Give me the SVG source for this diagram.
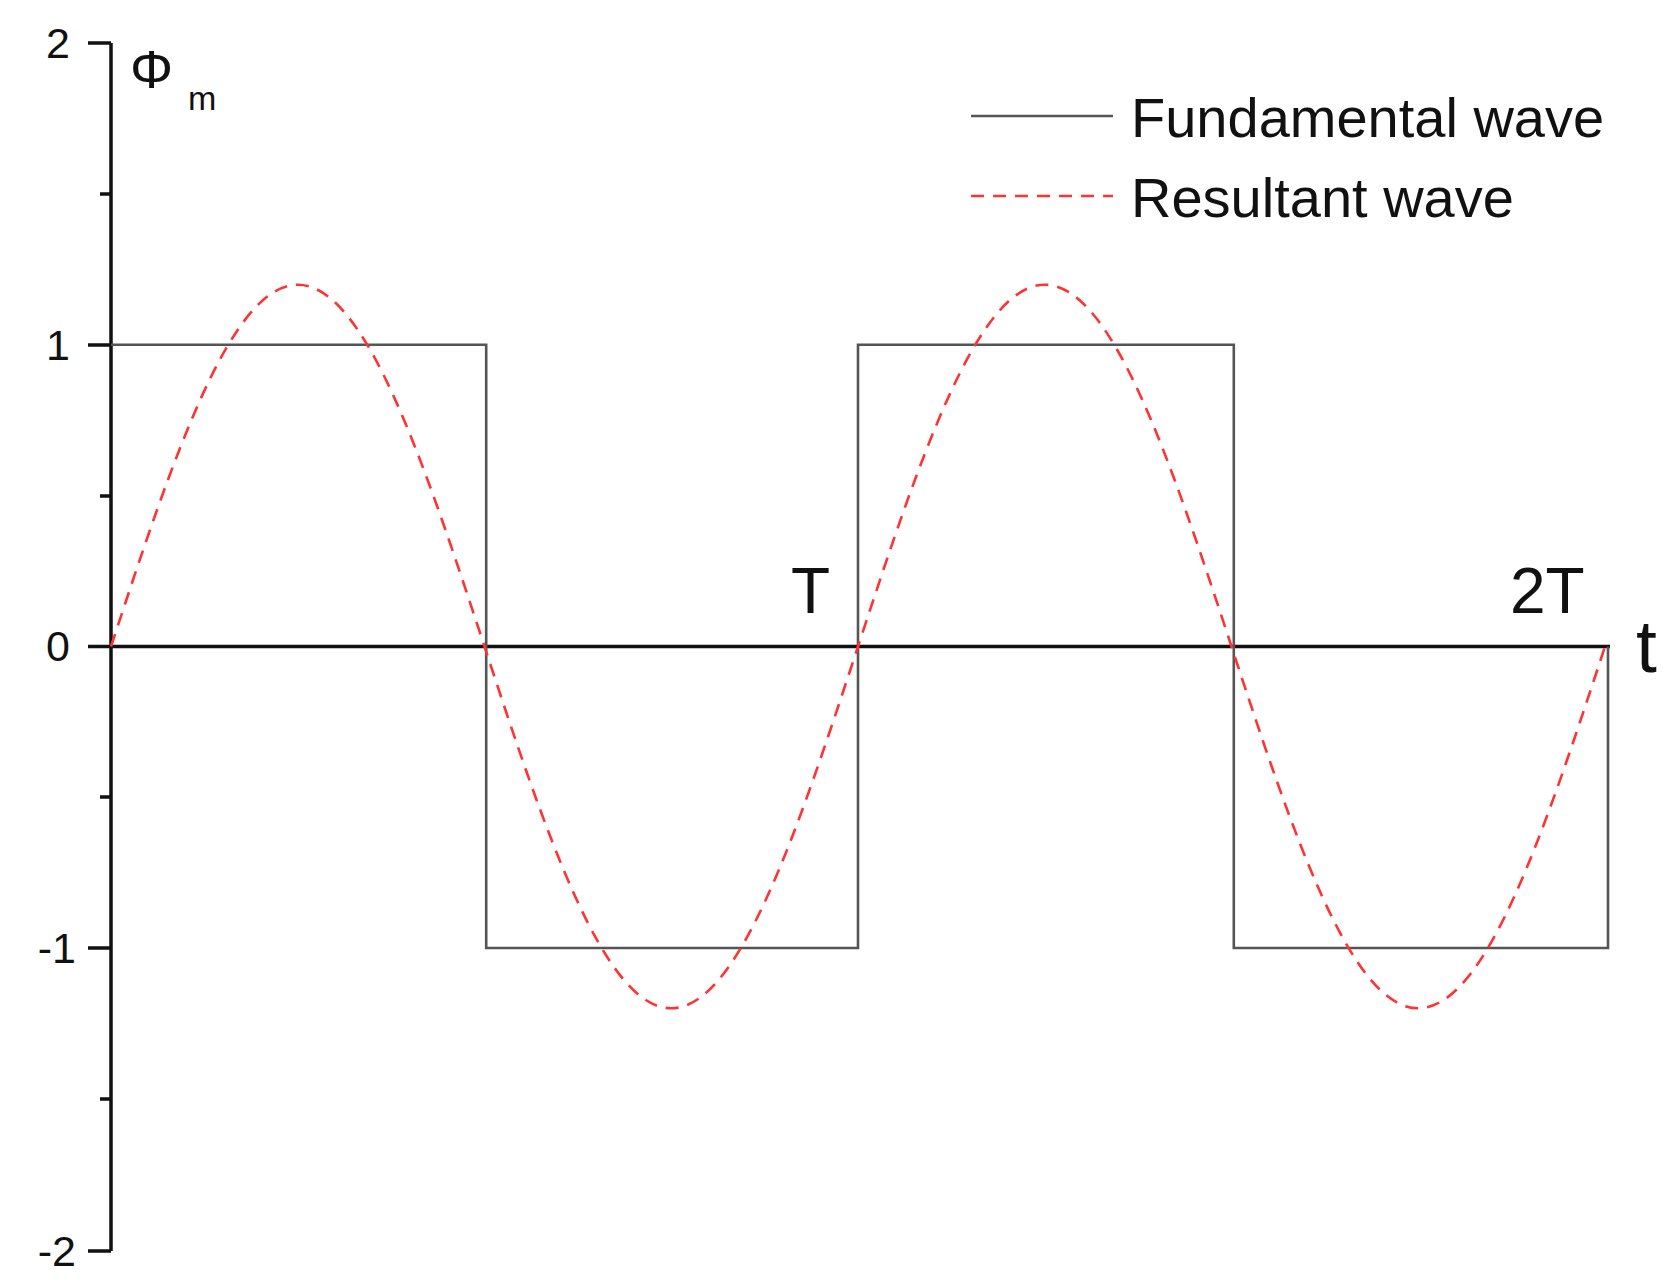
<svg xmlns="http://www.w3.org/2000/svg" width="1678" height="1288" viewBox="0 0 1678 1288">
<style>
text{font-family:"Liberation Sans",Arial,sans-serif;fill:#111}
.ax{stroke:#111;stroke-width:3.5;fill:none}
.sq{stroke:#555;stroke-width:2.6;fill:none}
.sn{stroke:#f33;stroke-width:2.6;fill:none;stroke-dasharray:13 9}
.tl{font-size:43px;text-anchor:end}
</style>
<rect width="1678" height="1288" fill="#fff"/>
<g id="axes">
<path class="ax" d="M111,43V1251M88,43H111M100,194H111M88,345H111M100,496H111M100,797H111M88,948H111M100,1099H111M88,1251H111"/>
<path class="ax" d="M88,646.5H1610"/>
<text class="tl" x="70" y="58">2</text>
<text class="tl" x="70" y="360">1</text>
<text class="tl" x="70" y="661">0</text>
<text class="tl" x="76" y="963">-1</text>
<text class="tl" x="76" y="1266">-2</text>
<text x="130" y="88" font-size="54" font-family="Liberation Serif,serif">Φ</text>
<text x="188" y="110" font-size="34">m</text>
<text x="791" y="613" font-size="64">T</text>
<text x="1510" y="613" font-size="64">2T</text>
<text x="1636" y="672" font-size="75">t</text>
</g>
<g id="waves">
<path class="sq" d="M111,344.8H486.2V948H858V344.8H1233.8V948H1608V646.5"/>
<path class="sn" d="M111,646.5c60.9,-185.3 119.2,-361.8 186.75,-361.8c67.55,0 125.85,176.5 186.75,361.8c60.9,185.3 119.2,361.8 186.75,361.8c67.55,0 125.85,-176.5 186.75,-361.8c60.9,-185.3 119.2,-361.8 186.75,-361.8c67.55,0 125.85,176.5 186.75,361.8c60.9,185.3 119.2,361.8 186.75,361.8c67.55,0 125.85,-176.5 186.75,-361.8"/>
</g>
<g id="legend">
<path class="sq" d="M971,116H1113"/>
<path class="sn" d="M971,196H1113"/>
<text x="1131" y="137" font-size="56">Fundamental wave</text>
<text x="1131" y="217" font-size="56">Resultant wave</text>
</g>
</svg>
